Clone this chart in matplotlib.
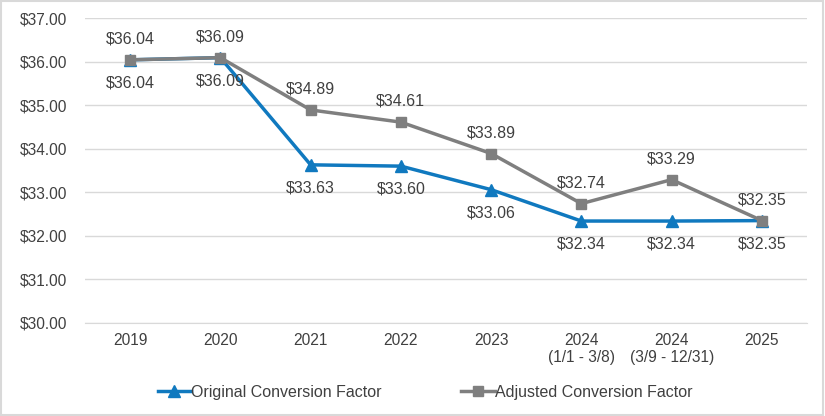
import matplotlib
matplotlib.use("Agg")
import matplotlib.pyplot as plt
from matplotlib.patches import Rectangle

plt.rcParams['font.family'] = ['Liberation Sans', 'DejaVu Sans']

categories = ["2019", "2020", "2021", "2022", "2023", "2024\n(1/1 - 3/8)", "2024\n(3/9 - 12/31)", "2025"]
original = [36.04, 36.09, 33.63, 33.60, 33.06, 32.34, 32.34, 32.35]
adjusted = [36.04, 36.09, 34.89, 34.61, 33.89, 32.74, 33.29, 32.35]
yticks = [30, 31, 32, 33, 34, 35, 36, 37]

blue = "#1079BF"
gray = "#7F7F7F"
txt = "#404040"

fig = plt.figure(figsize=(8.25, 4.16), dpi=100)
ax = fig.add_axes([85/825, 1 - 323/416, (807-85)/825, (323-18)/416])

x = list(range(len(categories)))
ax.plot(x, original, color=blue, lw=2.5, marker='^', ms=8.5, label="Original Conversion Factor", zorder=3)
ax.plot(x, adjusted, color=gray, lw=2.5, marker='s', ms=7.5, label="Adjusted Conversion Factor", zorder=4)

for xi, v in zip(x, original):
    ax.annotate(f"${v:.2f}", (xi, v), xytext=(0, -16.5), textcoords='offset points',
                ha='center', va='center', fontsize=11.5, color=txt)
for xi, v in zip(x, adjusted):
    ax.annotate(f"${v:.2f}", (xi, v), xytext=(0, 15), textcoords='offset points',
                ha='center', va='center', fontsize=11.5, color=txt)

ax.set_xlim(-0.5, len(categories) - 0.5)
ax.set_ylim(30, 37)
ax.set_yticks(yticks)
ax.set_yticklabels([f"${t:.2f}" for t in yticks])
ax.set_xticks(x)
ax.set_xticklabels(categories)
ax.tick_params(axis='both', length=0, labelsize=11.2, labelcolor=txt)
ax.tick_params(axis='x', pad=7)
ax.tick_params(axis='y', pad=13)
ax.grid(axis='y', color="#D9D9D9", lw=1)
ax.set_axisbelow(True)
for s in ['top', 'right', 'left']:
    ax.spines[s].set_visible(False)
ax.spines['bottom'].set_color("#D9D9D9")

leg = fig.legend(loc='center', bbox_to_anchor=(425/825, 1 - 392/416), ncol=2, frameon=False,
                 fontsize=11.5, handlelength=2.1, handletextpad=0.0, columnspacing=5.0)
for t in leg.get_texts():
    t.set_color(txt)

fig.patches.append(Rectangle((0.001, 0.002), 0.997, 0.996, transform=fig.transFigure,
                             fill=False, edgecolor="#D9D9D9", lw=1.5))

fig.savefig("out.png", dpi=100)
